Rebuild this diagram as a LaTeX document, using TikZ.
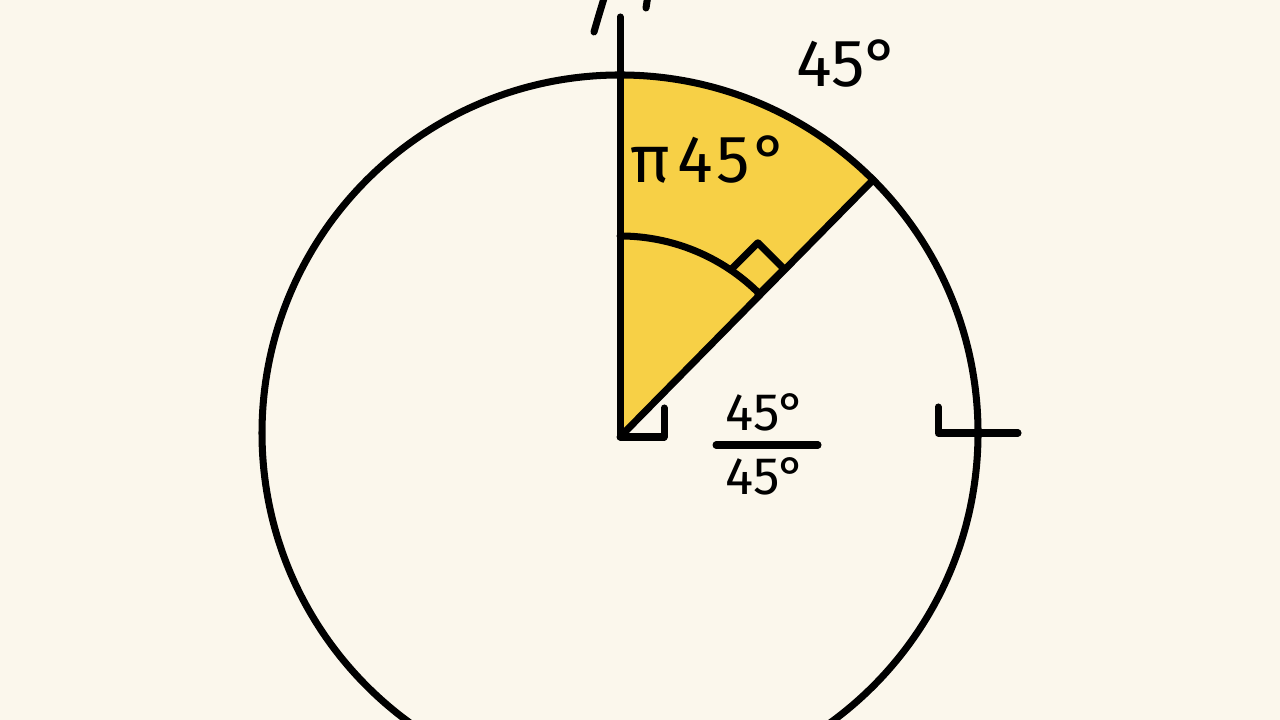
\documentclass[tikz,border=0pt]{standalone}
\usepackage{fontspec}
\setmainfont{Fira Sans}
\usetikzlibrary{calc}
\definecolor{paper}{HTML}{FBF7EC}
\definecolor{sector}{HTML}{F7D046}
\begin{document}
\begin{tikzpicture}[line width=2pt, line cap=round, line join=round]
          \tikzstyle{ink} = [draw, black];
          \tikzstyle{lbl} = [inner sep=0pt, font=\fontsize{18}{20}\selectfont];
          \clip (0,0) rectangle (12.8,7.2);
          \fill[paper] (0,0) rectangle (12.8,7.2);
          \coordinate (O) at (6.2,2.87);
          \coordinate (T) at ($(O)+(45:3.58)$);
          % sector
          \fill[sector] (O) -- ($(O)+(0,3.58)$) arc[start angle=90, end angle=45, radius=3.58] -- cycle;
          \draw[ink] (O) circle (3.58);
          % axes and corner
          \draw[ink] (6.2,7.03) -- (6.2,2.83) -- (6.64,2.83) -- (6.64,3.12);
          \draw[ink] (6.2,2.83) -- (T);
          \draw[ink] (9.38,3.13) -- (9.38,2.87) -- (10.18,2.87);
          % inner arc and small square
          \draw[ink] ($(O)+(0,1.97)$) arc[start angle=90, end angle=45, radius=1.97];
          \coordinate (P) at ($(O)+(45:1.95)$);
          \draw[ink] (P) -- ++(45:0.37) -- ++(135:0.37) -- ++(225:0.37);
          % marks at top edge
          \draw[ink] (5.94,6.88) .. controls (5.98,7.02) .. (6.05,7.25);
          \draw[ink] (6.46,7.12) -- (6.48,7.25);
          % labels
          \node[lbl, anchor=west, font=\fontsize{19}{22}\selectfont] (pi) at (6.27,5.60) {π\kern2pt4\kern1pt5\kern1pt°};
          \node[lbl, font=\fontsize{19}{22}\selectfont] (top) at (8.48,6.56) {45°};
          \node[lbl, font=\fontsize{15}{18}\selectfont] (num) at (7.66,3.08) {45°};
          \node[lbl, font=\fontsize{15}{18}\selectfont] (den) at (7.66,2.44) {45°};
          \coordinate (barL) at (7.16,2.75);
          \coordinate (barR) at (8.18,2.75);
          \draw[ink] (barL) -- (barR);
          \end{tikzpicture}
\end{document}
